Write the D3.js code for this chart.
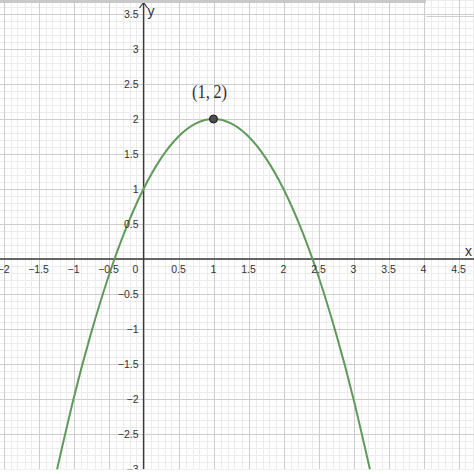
<!DOCTYPE html>
<html>
<head>
<meta charset="utf-8">
<script src="https://cdn.jsdelivr.net/npm/d3@7"></script>
<style>
html,body{margin:0;padding:0;background:#fff;}
svg{display:block;}
</style>
</head>
<body>
<svg id="chart" width="474" height="474"></svg>
<script>
// ---- data ----
const xTickValues = [-2, -1.5, -1, -0.5, 0.5, 1, 1.5, 2, 2.5, 3, 3.5, 4, 4.5];
const yTickValues = [-3, -2.5, -2, -1.5, -1, -0.5, 0.5, 1, 1.5, 2, 2.5, 3, 3.5];
const curveX = [-1.3, -1.0, -0.75, -0.5, -0.25, 0, 0.25, 0.5, 0.75, 1.0, 1.25, 1.5, 1.75, 2.0, 2.25, 2.5, 2.75, 3.0, 3.3];
const curveY = [-3.29, -2.0, -1.0625, -0.25, 0.4375, 1.0, 1.4375, 1.75, 1.9375, 2.0, 1.9375, 1.75, 1.4375, 1.0, 0.4375, -0.25, -1.0625, -2.0, -3.29];
const vertex = {x: 1, y: 2, label: "(1,\u20092)"};

const svg = d3.select("#chart");
const W = 474, H = 474;
const x = d3.scaleLinear().domain([-2, 4.5]).range([3.5, 458.5]);
const y = d3.scaleLinear().domain([-3, 3.5]).range([469, 14]);
const plotBottom = 469.5;

const fmt = v => (v < 0 ? "\u2212" : "") + String(Math.abs(v));

svg.append("defs").append("clipPath").attr("id", "plot")
  .append("rect").attr("x", 0).attr("y", 0).attr("width", W).attr("height", plotBottom);

const g = svg.append("g").attr("clip-path", "url(#plot)");

// minor grid
const minorX = d3.range(-2.1, 4.85, 0.1).map(v => Math.round(v * 10) / 10);
const minorY = d3.range(-3.0, 3.75, 0.1).map(v => Math.round(v * 10) / 10);
g.append("g").selectAll("line").data(minorX).join("line")
  .attr("x1", d => Math.round(x(d)) + 0.5).attr("x2", d => Math.round(x(d)) + 0.5)
  .attr("y1", 0).attr("y2", plotBottom)
  .attr("stroke", "#ececec").attr("stroke-width", 1);
g.append("g").selectAll("line").data(minorY).join("line")
  .attr("y1", d => Math.round(y(d)) + 0.5).attr("y2", d => Math.round(y(d)) + 0.5)
  .attr("x1", 0).attr("x2", W)
  .attr("stroke", "#ececec").attr("stroke-width", 1);

// major grid
const majorX = d3.range(-2, 4.6, 0.5);
const majorY = d3.range(-3, 3.6, 0.5);
g.append("g").selectAll("line").data(majorX).join("line")
  .attr("x1", d => Math.round(x(d)) + 0.5).attr("x2", d => Math.round(x(d)) + 0.5)
  .attr("y1", 0).attr("y2", plotBottom)
  .attr("stroke", "#cdcdcd").attr("stroke-width", 1);
g.append("g").selectAll("line").data(majorY).join("line")
  .attr("y1", d => Math.round(y(d)) + 0.5).attr("y2", d => Math.round(y(d)) + 0.5)
  .attr("x1", 0).attr("x2", W)
  .attr("stroke", "#cdcdcd").attr("stroke-width", 1);

// axes
const ax = g.append("g");
ax.append("line").attr("x1", 0).attr("x2", W)
  .attr("y1", y(0)).attr("y2", y(0)).attr("stroke", "#3a3a3a").attr("stroke-width", 1.3);
ax.append("line").attr("x1", x(0)).attr("x2", x(0))
  .attr("y1", 2.5).attr("y2", plotBottom).attr("stroke", "#3a3a3a").attr("stroke-width", 1.3);
ax.append("path")
  .attr("d", `M${x(0) - 4},${8} L${x(0)},${2.5} L${x(0) + 4},${8}`)
  .attr("fill", "none").attr("stroke", "#3a3a3a").attr("stroke-width", 1.2);

// tick labels
const lab = svg.append("g").attr("font-family", "'Liberation Sans', Arial, sans-serif")
  .attr("font-size", 10.5).attr("fill", "#333");
lab.selectAll("text.xt").data(xTickValues).join("text").attr("class", "xt")
  .attr("x", d => x(d)).attr("y", y(0) + 14)
  .attr("text-anchor", "middle").text(fmt);
lab.selectAll("text.yt").data(yTickValues).join("text").attr("class", "yt")
  .attr("x", x(0) - 5).attr("y", d => y(d) + 4)
  .attr("text-anchor", "end").text(fmt);
lab.append("text").attr("x", x(0) - 8).attr("y", y(0) + 14)
  .attr("text-anchor", "middle").text("0");

// axis names
svg.append("text").attr("x", x(0) + 4).attr("y", 16)
  .attr("font-family", "'Liberation Sans', Arial, sans-serif").attr("font-size", 14).attr("fill", "#333")
  .text("y");
svg.append("text").attr("x", 465).attr("y", y(0) - 3)
  .attr("font-family", "'Liberation Sans', Arial, sans-serif").attr("font-size", 14).attr("fill", "#333")
  .text("x");

// curve
const pts = curveX.map((v, i) => [v, curveY[i]]);
g.append("path").datum(pts)
  .attr("d", d3.line().x(d => x(d[0])).y(d => y(d[1])).curve(d3.curveNatural))
  .attr("fill", "none").attr("stroke", "#5f9a5c").attr("stroke-width", 2);

// vertex point
svg.append("circle").attr("cx", x(vertex.x)).attr("cy", y(vertex.y)).attr("r", 4)
  .attr("fill", "#4d4d4d").attr("stroke", "#1a1a1a").attr("stroke-width", 1);
svg.append("text").attr("x", x(vertex.x) - 4).attr("y", y(vertex.y) - 21)
  .attr("text-anchor", "middle")
  .attr("font-family", "'Liberation Serif', 'Times New Roman', serif").attr("font-size", 19).attr("fill", "#333")
  .attr("textLength", 35).attr("lengthAdjust", "spacingAndGlyphs")
  .text(vertex.label);

// bottom white strip
svg.append("rect").attr("x", 0).attr("y", plotBottom).attr("width", W).attr("height", H - plotBottom).attr("fill", "#fff");
// top gray bar (UI)
svg.append("rect").attr("x", 0).attr("y", 0).attr("width", 426).attr("height", 3).attr("fill", "#c9c9c9");
svg.append("line").attr("x1", 426).attr("x2", W).attr("y1", 16.5).attr("y2", 16.5)
  .attr("stroke", "#cfcfcf").attr("stroke-width", 1);
</script>
</body>
</html>
